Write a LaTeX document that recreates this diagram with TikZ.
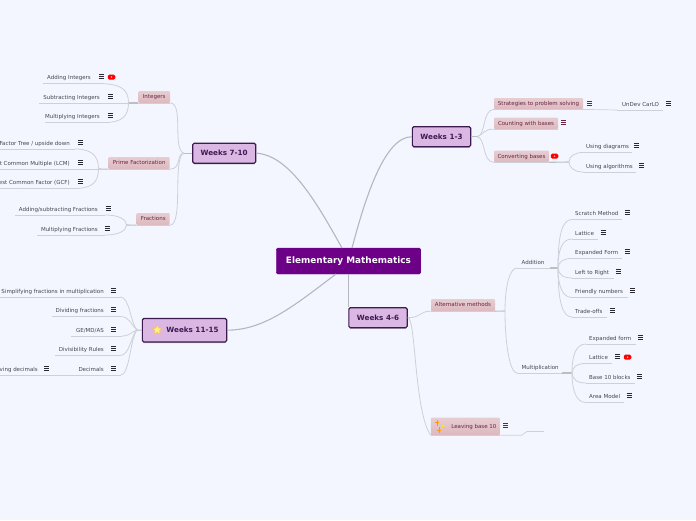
\documentclass[tikz,border=0pt]{standalone}
\usepackage{fontspec}
\setmainfont{DejaVu Sans}
\usetikzlibrary{shapes.geometric,shadows}
\definecolor{bgpage}{HTML}{F3F6FF}
\definecolor{rootfill}{HTML}{6C0087}
\definecolor{weekfill}{HTML}{DAB8E3}
\definecolor{weekline}{HTML}{3C1A50}
\definecolor{pinktop}{HTML}{E6CDD2}
\definecolor{pinkbot}{HTML}{DDB9BE}
\definecolor{pinkink}{HTML}{6B2340}
\definecolor{leafink}{HTML}{45454F}
\definecolor{mainline}{HTML}{B4B7BE}
\definecolor{subline}{HTML}{CDD0D8}
\definecolor{stubline}{HTML}{BDBFBF}
\tikzset{
  rootbox/.style={fill=rootfill,draw=rootfill,rounded corners=1.5pt,text=white,font=\bfseries\fontsize{8.9}{10}\selectfont,inner sep=0pt},
  weekbox/.style={fill=weekfill,draw=weekline,line width=1.1pt,rounded corners=1.5pt,text=weekline,font=\bfseries\fontsize{7.2}{9}\selectfont,inner sep=0pt,drop shadow={shadow xshift=0pt,shadow yshift=-1.2pt,opacity=.25,fill=black}},
  pinkbox/.style={top color=pinktop,bottom color=pinkbot,rounded corners=1pt,text=pinkink,font=\fontsize{5.5}{7}\selectfont,inner sep=0pt,text height=4pt,text depth=.4pt},
  leaftext/.style={text=leafink,font=\fontsize{5.5}{7}\selectfont,inner sep=0pt,text height=4pt,text depth=1.2pt,yshift=-.9pt},
  under/.style={draw=subline,line width=.7pt},
  mainconn/.style={draw=mainline,line width=1.1pt},
  subconn/.style={draw=subline,line width=.8pt},
  stub/.style={draw=stubline,line width=1.1pt},
  barsicon/.style={line width=.8pt},
  badge/.style={fill=red,rounded corners=1.5pt,minimum width=7.5pt,minimum height=5pt,inner sep=0pt},
}
\newcommand\leaf[8]{%
  \node[leaftext,anchor=#2] (#1) at (#3,#4) {#5};
  \coordinate (#1-l) at (#6,#8);
  \coordinate (#1-r) at (#7,#8);
  \draw[under] (#1-l) -- (#1-r);
}
\newcommand\bars[3][leafink!60!black]{%
  \begin{scope}[shift={(#2,#3)}]
    \draw[barsicon,color=#1] (-2.6,-2) -- (2.6,-2) (-2.6,0) -- (2.6,0) (-2.6,2) -- (2.6,2);
  \end{scope}
}
\newcommand\redbadge[3]{%
  \node[badge] (#1) at (#2,#3) {};
  \fill[white!70!red] (#1.center) circle (.8pt);
}
\begin{document}
\begin{tikzpicture}[x=1pt,y=-1pt]
\useasboundingbox[fill=bgpage] (0,0) rectangle (696,520);

% boxes
\node[rootbox,minimum width=144.5pt,minimum height=26pt] (root) at (348.5,261) {Elementary Mathematics};
\node[weekbox,minimum width=63pt,minimum height=20pt] (w710) at (224.2,153.2) {Weeks 7-10};
\node[weekbox,minimum width=58.4pt,minimum height=20pt] (w13) at (441.5,136.7) {Weeks 1-3};
\node[weekbox,minimum width=58.4pt,minimum height=20pt] (w46) at (378,317.7) {Weeks 4-6};
\node[weekbox,minimum width=84.4pt,minimum height=23.5pt] (w1115) at (184.5,330.2) {\hspace{16pt}Weeks 11-15};

\node[pinkbox,minimum width=31.7pt,minimum height=11.6pt] (integers) at (154.2,97) {Integers};
\node[pinkbox,minimum width=61pt,minimum height=12pt] (prime) at (139.2,163) {Prime Factorization};
\node[pinkbox,minimum width=33pt,minimum height=12pt] (fractions) at (153.2,219) {Fractions};
\node[pinkbox,minimum width=89pt,minimum height=11pt] (strategies) at (538.5,103.7) {Strategies to problem solving};
\node[pinkbox,minimum width=64pt,minimum height=11.4pt] (counting) at (526,123.3) {Counting with bases};
\node[pinkbox,minimum width=55pt,minimum height=11.4pt] (converting) at (521.5,156.4) {Converting bases};
\node[pinkbox,minimum width=64pt,minimum height=12pt] (altm) at (463,305) {Alternative methods};
\node[pinkbox,minimum width=69.3pt,minimum height=17.4pt] (leaving) at (465.4,426.3) {\hspace{17pt}Leaving base 10};

% leaves, left side
\leaf{addint}{east}{91}{77}{Adding Integers}{43}{98}{83.5}
\leaf{subint}{east}{100}{97}{Subtracting Integers}{39}{105}{103}
\leaf{mulint}{east}{100}{116}{Multiplying Integers}{45}{105}{122.5}
\leaf{ftree}{east}{70}{143}{Factor Tree / upside down}{0}{75}{149}
\leaf{lcm}{east}{70}{163}{t Common Multiple (LCM)}{0}{75}{169}
\leaf{gcf}{east}{70}{182}{est Common Factor (GCF)}{0}{75}{188.5}
\leaf{addfr}{east}{98}{209}{Adding/subtracting Fractions}{15}{105}{215}
\leaf{mulfr}{east}{98}{229}{Multiplying Fractions}{37}{105}{235}
\leaf{simp}{east}{104}{291}{Simplifying fractions in multiplication}{0}{120}{297}
\leaf{divfr}{east}{104}{310}{Dividing fractions}{52}{120}{316.5}
\leaf{gemd}{east}{104}{330}{GE/MD/AS}{71}{122}{336}
\leaf{divis}{east}{104}{349}{Divisibility Rules}{55}{120}{355.5}
\leaf{decim}{east}{104}{369}{Decimals}{75}{120}{375.5}
\leaf{movdec}{east}{38}{369}{ving decimals}{0}{75}{375.5}

% leaves, right side
\leaf{undev}{west}{622}{104}{UnDev CarLO}{617}{663}{110}
\leaf{udiag}{west}{586}{146}{Using diagrams}{583}{632}{152.5}
\leaf{ualg}{west}{586}{166}{Using algorithms}{583}{636}{172}
\leaf{addn}{west}{521.5}{262}{Addition}{517}{558}{268}
\leaf{scratch}{west}{575}{213}{Scratch Method}{572}{622}{219.5}
\leaf{lat}{west}{575}{233}{Lattice}{572}{598}{239}
\leaf{expa}{west}{575}{252}{Expanded Form}{572}{622}{258.5}
\leaf{ltr}{west}{575}{272}{Left to Right}{572}{613.5}{278}
\leaf{friend}{west}{575}{291}{Friendly numbers}{572}{628}{297.5}
\leaf{trade}{west}{575}{311}{Trade-offs}{572}{607}{317}
\leaf{mult}{west}{521.5}{367}{Multiplication}{517}{572}{373}
\leaf{expb}{west}{589}{338}{Expanded form}{586}{636}{344}
\leaf{latb}{west}{589}{357}{Lattice}{586}{612}{363.5}
\leaf{blocks}{west}{589}{377}{Base 10 blocks}{586}{635}{383}
\leaf{area}{west}{589}{396}{Area Model}{586}{624}{402.5}
\coordinate (blank-l) at (527,431.5);
\coordinate (blank-r) at (544,431.5);
\draw[under] (blank-l) -- (blank-r);

% root connectors
\coordinate (rootNW) at (342,248);
\coordinate (rootNE) at (352,248);
\coordinate (rootSW) at (336,274);
\draw[mainconn] (rootNW) .. controls (318,205) and (290,155) .. (w710.east);
\draw[mainconn] (rootNE) .. controls (366,195) and (385,137) .. (w13.west);
\draw[mainconn] (root.south) -- (w46.north -| root.south);
\draw[mainconn] (rootSW) .. controls (295,305) and (265,330) .. (w1115.east);

% hubs
\coordinate (h710) at (184,153.2);
\coordinate (h13) at (477,136.7);
\coordinate (h1115) at (137,330);
\draw[stub] (w710.west) -- (h710);
\draw[stub] (w13.east) -- (h13);
\draw[stub] (w1115.west) -- (h1115);

% weeks 7-10 children
\draw[subconn] (h710) .. controls (172,150) and (184,103) .. (integers.south east);
\draw[subconn] (h710) .. controls (176,153) and (182,169) .. (prime.south east);
\draw[subconn] (h710) .. controls (172,156) and (184,225) .. (fractions.south east);

% integers children
\coordinate (hint) at (128.5,103);
\draw[stub] (integers.south west) -- (hint);
\draw[subconn] (hint) .. controls (128.5,90) and (122,83.5) .. (addint-r);
\draw[subconn] (hint) -- (subint-r);
\draw[subconn] (hint) .. controls (128.5,116) and (122,122.5) .. (mulint-r);

% prime children
\coordinate (hpri) at (98.5,169);
\draw[stub] (prime.south west) -- (hpri);
\draw[subconn] (hpri) .. controls (98.5,156) and (92,149) .. (ftree-r);
\draw[subconn] (hpri) -- (lcm-r);
\draw[subconn] (hpri) .. controls (98.5,182) and (92,188.5) .. (gcf-r);

% fractions children
\coordinate (hfra) at (126.5,225);
\draw[stub] (fractions.south west) -- (hfra);
\draw[subconn] (hfra) .. controls (126.5,220) and (120,215) .. (addfr-r);
\draw[subconn] (hfra) .. controls (126.5,230) and (120,235) .. (mulfr-r);

% weeks 11-15 children
\draw[subconn] (h1115) .. controls (130,322) and (130,297) .. (simp-r);
\draw[subconn] (h1115) .. controls (131,325) and (130,316.5) .. (divfr-r);
\draw[subconn] (h1115) .. controls (131,332) and (130,336) .. (gemd-r);
\draw[subconn] (h1115) .. controls (131,335) and (130,355.5) .. (divis-r);
\draw[subconn] (h1115) .. controls (130,338) and (130,375.5) .. (decim-r);
\draw[subconn] (decim-l) -- (movdec-r);

% weeks 1-3 children
\draw[subconn] (h13) .. controls (486,136) and (482,110) .. (strategies.south west);
\draw[subconn] (h13) .. controls (484,134) and (484,129) .. (counting.south west);
\draw[subconn] (h13) .. controls (486,138) and (482,162) .. (converting.south west);
\draw[under] (strategies.south east) -- (undev-l);
\coordinate (hcon) at (569,162);
\draw[stub] (converting.south east) -- (hcon);
\draw[subconn] (hcon) .. controls (569,156) and (575,152.5) .. (udiag-l);
\draw[subconn] (hcon) .. controls (569,168) and (575,172) .. (ualg-l);

% weeks 4-6 children
\draw[subconn] (w46.east) .. controls (420,318) and (420,311) .. (altm.south west);
\draw[subconn] (w46.east) .. controls (416,318) and (414,410) .. (leaving.south west);
\coordinate (halt) at (505,311);
\draw[stub] (altm.south east) -- (halt);
\draw[subconn] (halt) .. controls (505,285) and (510,268) .. (addn-l);
\draw[subconn] (halt) .. controls (505,345) and (510,373) .. (mult-l);
\draw[stub] (550,268) -- (addn-r);
\draw[stub] (562,373) -- (mult-r);

% addition children
\draw[subconn] (addn-r) .. controls (558,235) and (562,219.5) .. (scratch-l);
\draw[subconn] (addn-r) .. controls (558,250) and (562,239) .. (lat-l);
\draw[subconn] (addn-r) .. controls (559,262) and (562,258.5) .. (expa-l);
\draw[subconn] (addn-r) .. controls (559,274) and (562,278) .. (ltr-l);
\draw[subconn] (addn-r) .. controls (558,285) and (562,297.5) .. (friend-l);
\draw[subconn] (addn-r) .. controls (558,300) and (562,317) .. (trade-l);

% multiplication children
\draw[subconn] (mult-r) .. controls (572,355) and (576,344) .. (expb-l);
\draw[subconn] (mult-r) .. controls (573,367) and (576,363.5) .. (latb-l);
\draw[subconn] (mult-r) .. controls (573,379) and (576,383) .. (blocks-l);
\draw[subconn] (mult-r) .. controls (572,390) and (576,402.5) .. (area-l);

% leaving child
\coordinate (hlea) at (521.5,435.3);
\draw[under] (leaving.south east) -- (hlea);
\draw[under] (hlea) .. controls (524,435.3) and (524,431.5) .. (blank-l);

% underlines of pink boxes
\foreach \n in {integers,prime,fractions,strategies,counting,converting,altm,leaving}
  \draw[under] (\n.south west) -- (\n.south east);

% menu icons
\bars{101.5}{76.5} \bars{110.5}{96.5} \bars{110.5}{115.5}
\bars{80.5}{142.5} \bars{80.5}{162.5} \bars{80.5}{181.5}
\bars{108.5}{208.5} \bars{107.5}{228.5}
\bars{113.5}{290.5} \bars{113.5}{309.5} \bars{113.5}{329.5} \bars{113.5}{348.5} \bars{113.5}{368.5} \bars{46.5}{368.5}
\bars[pinkink]{589.5}{103.5} \bars[pinkink]{563.5}{122.5} \bars[pinkink]{505.5}{425.5}
\bars{668.5}{103.5} \bars{636.5}{145.5} \bars{641.5}{165.5}
\bars{627.5}{212.5} \bars{603.5}{232.5} \bars{627.5}{251.5} \bars{618.5}{271.5} \bars{632.5}{290.5} \bars{612.5}{310.5}
\bars{640.5}{337.5} \bars{617.5}{356.5} \bars{639.5}{376.5} \bars{629.5}{395.5}

% badges
\redbadge{badgeA}{111.5}{77}
\redbadge{badgeB}{554.5}{156.2}
\redbadge{badgeC}{627.5}{357.2}

% star icon of Weeks 11-15
\node[star,star points=5,star point ratio=2.2,fill=yellow!55!white,draw=orange!55,line width=.5pt,minimum size=10pt,inner sep=0pt] (staricon) at (157.3,330) {};

% sparkle icon of Leaving base 10
\draw[orange!80!yellow,line width=.6pt] (437,420) -- (437,426) (435,422.5) -- (439,422.5)
  (439,427) -- (439,433) (437,430) -- (441,430);
\fill[yellow!90!orange] (443,426) circle (1.6pt);
\end{tikzpicture}
\end{document}
